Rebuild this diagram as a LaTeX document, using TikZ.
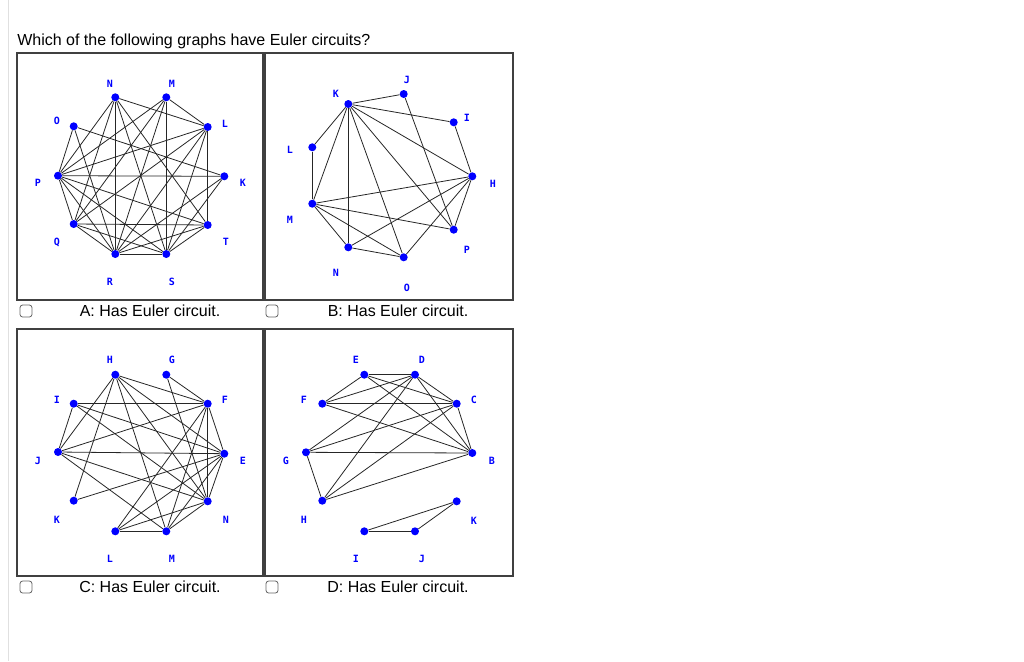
\documentclass[tikz,border=0pt]{standalone}
\usepackage{fontspec}
\setmainfont{Liberation Sans}
\newfontfamily\lbl{DejaVu Sans Mono}
\begin{document}
\begin{tikzpicture}[x=0.75pt,y=-0.75pt,
  v/.style={circle,fill=blue,inner sep=0pt,minimum size=6pt},
  lb/.style={text=blue,font=\lbl\bfseries\fontsize{7.5}{8}\selectfont,inner sep=0pt},
  e/.style={line width=0.6pt,black!85},
  box/.style={draw=black!75,line width=0.8pt},
  cb/.style={draw=black!60,rounded corners=2pt,line width=0.6pt,minimum size=9pt,inner sep=0pt},
  captxt/.style={font=\fontsize{12}{14}\selectfont,inner sep=0pt}]
\useasboundingbox (0,0) rectangle (1024,661);
\draw[black!12] (8,0) -- (8,661);
\node[anchor=base west,inner sep=0pt,font=\fontsize{12}{14}\selectfont] (title) at (17,45) {Which of the following graphs have Euler circuits?};
\draw[box] (17,53) rectangle (263,300);
\draw[box] (265,53) rectangle (513,300);
\draw[box] (17,329) rectangle (263,576);
\draw[box] (265,329) rectangle (513,576);
\node[cb] (c1) at (26,311) {}; \node[cb] (c2) at (272,311) {};
\node[cb] (c3) at (26,587) {}; \node[cb] (c4) at (272,587) {};
\node[captxt] (ta) at (150,311) {A: Has Euler circuit.};
\node[captxt] (tb) at (398,311) {B: Has Euler circuit.};
\node[captxt] (tc) at (150,587) {C: Has Euler circuit.};
\node[captxt] (td) at (398,587) {D: Has Euler circuit.};
% ---- A
\foreach \n/\x/\y/\lx/\ly in {N/115.3/97.3/110/84, M/166.3/97.3/172/84, L/207.7/127/225/124, O/73.7/126.3/57/121, P/58/175.7/38/183, K/224.3/176.3/243/183, Q/73.7/224/57/242, T/207.7/225/226/242, R/115.3/254/110/282, S/166.3/254/172/282}
  {\node[v] (a\n) at (\x,\y) {}; \node[lb] (la\n) at (\lx,\ly) {\n};}
\foreach \a/\b in {N/L,N/P,N/Q,N/R,N/S,N/T,M/L,M/S,M/P,M/Q,M/R,O/K,O/P,O/R,L/T,L/P,L/Q,L/R,L/S,P/K,P/T,P/Q,P/R,P/S,K/R,K/S,Q/T,Q/S,Q/R,T/R,T/S,R/S}
  \draw[e] (a\a) -- (a\b);
% ---- B
\foreach \n/\x/\y/\lx/\ly in {K/348.3/104/336/94, J/403.7/94/407/80, I/453.7/122.3/467/118, L/312.3/147.3/290/150, H/472.3/176.3/493/184, M/312.3/203.7/290/220, P/453.7/229.7/467/250, N/348.3/247.3/336/273, O/403.7/257.3/407/288}
  {\node[v] (b\n) at (\x,\y) {}; \node[lb] (lb\n) at (\lx,\ly) {\n};}
\foreach \a/\b in {K/J,K/I,K/L,K/M,K/N,K/O,K/P,K/H,J/P,I/H,L/M,M/H,M/P,M/N,M/O,N/O,N/H,O/H,H/P}
  \draw[e] (b\a) -- (b\b);
% ---- C
\foreach \n/\x/\y/\lx/\ly in {H/115.3/374.7/110/360, G/166.3/374.7/172/360, F/207.7/403.7/225/400, I/73.7/403.7/57/400, J/58/452/38/461, E/224.3/453.7/243/461, K/73.7/500.7/57/520, N/207.7/501.3/226/520, L/115.3/531.3/110/559, M/166.3/531.3/172/559}
  {\node[v] (c\n) at (\x,\y) {}; \node[lb] (lc\n) at (\lx,\ly) {\n};}
\foreach \a/\b in {H/F,H/E,H/N,H/M,H/K,H/J,G/F,G/N,I/F,I/J,I/E,I/N,J/F,J/E,J/N,J/M,K/E,F/N,F/L,F/M,F/E,E/N,E/L,E/M,N/L,N/M,L/M}
  \draw[e] (c\a) -- (c\b);
% ---- D
\foreach \n/\x/\y/\lx/\ly in {E/364.3/374.7/356/360, D/415/374.7/422/360, F/322.3/403.7/304/400, C/456.7/403.7/474/400, G/306/452.3/286/461, B/472.3/453/492/461, H/322.3/500.7/304/520, K/456.7/501.3/474/521, I/364.3/531.3/356/559, J/415/531.3/422/559}
  {\node[v] (d\n) at (\x,\y) {}; \node[lb] (ld\n) at (\lx,\ly) {\n};}
\foreach \a/\b in {E/D,E/F,E/C,E/B,D/F,D/C,D/B,D/G,D/H,F/C,F/B,C/B,C/G,C/H,G/B,G/H,H/B,I/J,I/K,J/K}
  \draw[e] (d\a) -- (d\b);
\end{tikzpicture}
\end{document}
